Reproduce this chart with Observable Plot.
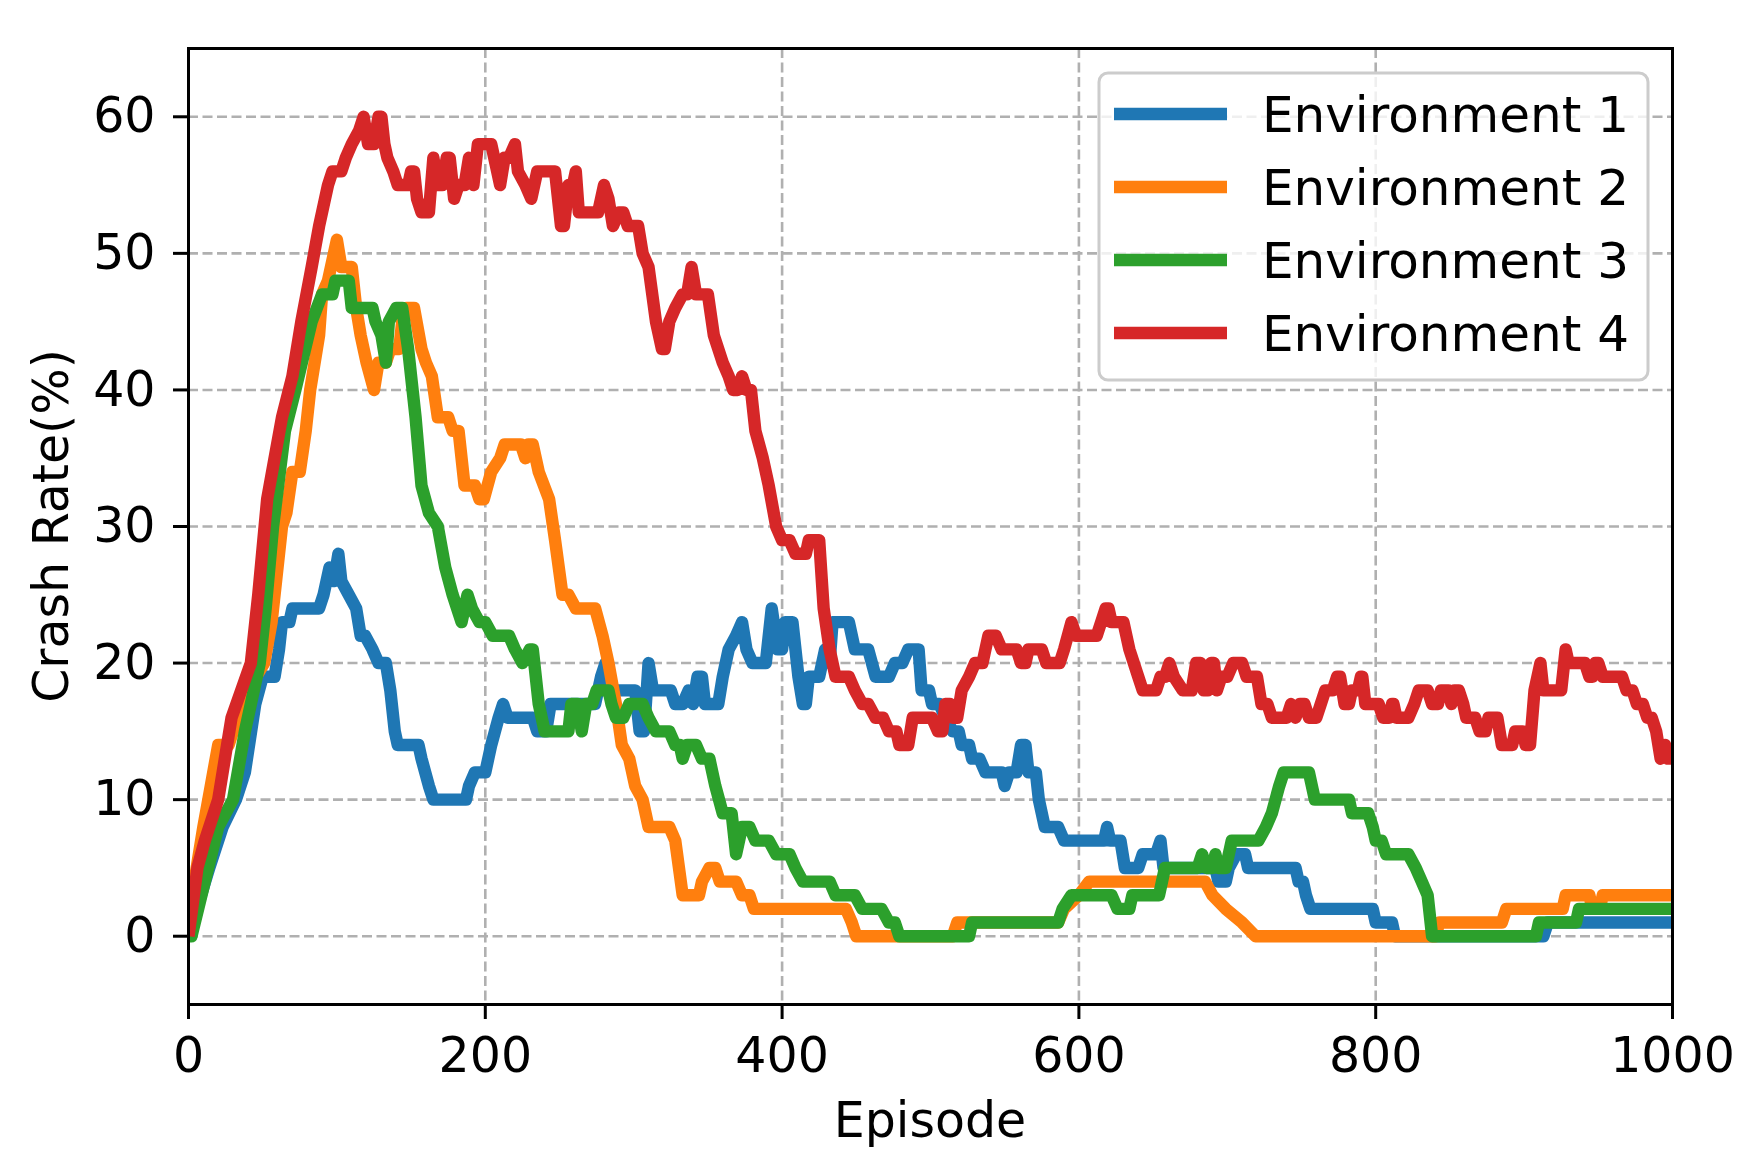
<!DOCTYPE html>
<html><head><meta charset="utf-8">
<script src="https://cdn.jsdelivr.net/npm/d3@7"></script>
<script src="https://cdn.jsdelivr.net/npm/@observablehq/plot@0.6"></script>
<style>html,body{margin:0;padding:0;background:#fff;} svg{display:block;}</style>
</head><body><div id="chart"></div>
<script>
// [episode, crash rate %]
const env1 = [[0,0],[14,5],[23,8],[32,10],[38,12],[45,17],[50,19],[58,19],[61,21],[63,23],[68,23],[70,24],[88,24],[91,25],[95,27],[98,26],[101,28],[103,26],[108,25],[113,24],[116,22],[119,22],[124,21],[128,20],[133,20],[136,18],[139,15],[141,14],[155,14],[157,13],[162,11],[165,10],[187,10],[189,11],[193,12],[200,12],[204,14],[209,16],[212,17],[215,16],[232,16],[235,15],[241,15],[244,17],[274,17],[278,19],[281,20],[283,18],[301,18],[304,15],[307,15],[310,20],[313,18],[325,18],[328,17],[333,17],[337,18],[340,17],[343,19],[346,19],[348,17],[357,17],[360,19],[364,21],[369,22],[373,23],[376,21],[380,20],[389,20],[393,24],[397,21],[400,21],[402,23],[407,23],[411,19],[414,17],[416,17],[418,19],[425,19],[429,21],[432,20],[434,23],[445,23],[449,21],[458,21],[463,19],[472,19],[476,20],[481,20],[485,21],[492,21],[494,18],[499,18],[501,17],[506,17],[510,16],[515,15],[519,15],[521,14],[526,14],[528,13],[533,13],[537,12],[548,12],[550,11],[553,12],[558,12],[561,14],[564,14],[566,12],[571,12],[573,10],[577,8],[586,8],[590,7],[617,7],[619,8],[621,7],[628,7],[631,5],[640,5],[643,6],[652,6],[655,7],[657,5],[692,5],[694,4],[699,4],[701,5],[706,6],[712,6],[714,5],[746,5],[748,4],[751,4],[753,3],[756,2],[798,2],[800,1],[811,1],[813,0],[913,0],[916,1],[1000,1]];
const env2 = [[0,0],[4,4],[10,8],[15,11],[20,14],[27,14],[33,16],[40,18],[51,20],[56,23],[63,30],[66,31],[70,34],[75,34],[79,37],[82,40],[88,44],[90,47],[94,48],[98,50],[100,51],[103,49],[110,49],[113,46],[116,44],[120,42],[125,40],[128,42],[133,42],[136,43],[142,43],[144,45],[147,46],[152,46],[157,43],[160,42],[164,41],[168,38],[175,38],[178,37],[182,37],[186,33],[193,33],[196,32],[199,32],[204,34],[210,35],[213,36],[224,36],[227,35],[229,36],[232,36],[236,34],[243,32],[247,29],[252,25],[256,25],[261,24],[274,24],[279,22],[283,20],[288,17],[292,14],[297,13],[301,11],[306,10],[310,8],[324,8],[328,7],[333,3],[344,3],[346,4],[351,5],[355,5],[358,4],[369,4],[373,3],[378,3],[381,2],[443,2],[447,1],[450,0],[515,0],[518,1],[586,1],[590,2],[600,3],[607,4],[685,4],[690,3],[699,2],[710,1],[719,0],[840,0],[843,1],[885,1],[888,2],[926,2],[928,3],[944,3],[946,2],[951,2],[953,3],[1000,3]];
const env3 = [[0,0],[2,0],[11,4],[20,8],[30,10],[38,15],[48,20],[52,24],[57,30],[65,37],[72,40],[83,45],[90,47],[97,47],[99,48],[108,48],[110,46],[124,46],[126,45],[130,44],[133,42],[135,45],[140,46],[144,46],[148,43],[153,38],[157,33],[162,31],[168,30],[173,27],[178,25],[184,23],[188,25],[191,24],[196,23],[200,23],[205,22],[216,22],[220,21],[225,20],[230,21],[232,21],[236,17],[240,15],[256,15],[258,17],[262,17],[265,15],[268,17],[272,17],[275,18],[283,18],[285,17],[288,16],[293,16],[297,17],[306,17],[310,16],[315,15],[324,15],[328,14],[331,14],[333,13],[336,14],[342,14],[346,13],[351,13],[355,11],[360,9],[366,9],[369,6],[373,8],[378,8],[382,7],[391,7],[396,6],[405,6],[409,5],[414,4],[432,4],[436,3],[449,3],[454,2],[467,2],[472,1],[476,1],[479,0],[526,0],[528,1],[586,1],[589,2],[595,3],[622,3],[626,2],[634,2],[636,3],[654,3],[658,5],[680,5],[683,6],[686,5],[690,5],[692,6],[694,5],[699,5],[703,7],[721,7],[726,8],[730,9],[735,11],[738,12],[755,12],[757,11],[759,10],[782,10],[784,9],[795,9],[798,8],[800,7],[804,7],[807,6],[822,6],[827,5],[831,4],[835,3],[838,0],[908,0],[910,1],[935,1],[937,2],[1000,2]];
const env4 = [[0,0],[6,5],[11,7],[20,10],[29,16],[42,20],[47,25],[53,32],[58,35],[63,38],[70,41],[76,45],[83,49],[88,52],[94,55],[97,56],[103,56],[106,57],[110,58],[115,59],[118,60],[121,58],[125,58],[128,60],[130,60],[132,58],[134,57],[138,56],[141,55],[148,55],[150,56],[152,56],[154,54],[157,53],[162,53],[165,57],[168,55],[171,55],[174,57],[176,57],[179,54],[182,55],[186,55],[189,57],[192,55],[195,58],[204,58],[208,56],[210,55],[213,57],[216,57],[220,58],[222,56],[227,55],[231,54],[235,56],[247,56],[251,52],[253,52],[256,55],[259,55],[261,56],[263,53],[276,53],[280,55],[283,54],[286,52],[290,53],[293,53],[296,52],[303,52],[306,50],[310,49],[315,45],[319,43],[321,43],[324,45],[328,46],[333,47],[336,47],[339,49],[342,47],[350,47],[354,44],[360,42],[364,41],[367,40],[370,40],[373,41],[376,40],[379,40],[382,37],[387,35],[391,33],[396,30],[400,29],[405,29],[409,28],[416,28],[418,29],[425,29],[428,24],[432,21],[436,19],[445,19],[449,18],[454,17],[458,17],[463,16],[468,16],[472,15],[477,15],[479,14],[485,14],[488,16],[497,16],[501,16],[505,15],[508,15],[510,17],[513,17],[515,16],[518,16],[521,18],[526,19],[530,20],[535,20],[539,22],[544,22],[548,21],[558,21],[561,20],[564,20],[566,21],[575,21],[578,20],[587,20],[590,21],[595,23],[598,22],[612,22],[615,23],[618,24],[620,24],[622,23],[630,23],[634,21],[640,19],[643,18],[652,18],[655,19],[658,19],[661,20],[664,19],[670,18],[676,18],[679,20],[682,20],[684,18],[687,18],[689,20],[691,20],[693,18],[696,19],[700,19],[704,20],[710,20],[713,19],[720,19],[723,17],[727,17],[730,16],[740,16],[743,17],[746,16],[749,17],[752,17],[755,16],[760,16],[763,17],[766,18],[771,18],[774,19],[776,19],[779,17],[782,17],[784,18],[788,18],[790,19],[791,19],[793,17],[802,17],[805,16],[809,16],[811,17],[812,17],[814,16],[822,16],[826,17],[829,18],[835,18],[838,17],[842,17],[844,18],[849,18],[851,17],[853,18],[856,18],[859,17],[861,16],[867,16],[870,15],[874,15],[876,16],[882,16],[885,14],[892,14],[894,15],[899,15],[901,14],[904,14],[907,18],[911,20],[913,18],[925,18],[928,21],[930,20],[941,20],[944,19],[946,19],[948,20],[950,20],[953,19],[966,19],[969,18],[973,18],[976,17],[980,17],[983,16],[986,16],[989,15],[992,13],[995,14],[997,13],[1000,13]];

const seriesNames = ["Environment 1", "Environment 2", "Environment 3", "Environment 4"];
const seriesColors = ["#1f77b4", "#ff7f0e", "#2ca02c", "#d62728"];
const xTicks = [0, 200, 400, 600, 800, 1000];
const yTicks = [0, 10, 20, 30, 40, 50, 60];
const xLabel = "Episode";
const yLabel = "Crash Rate(%)";

const W = 1753, H = 1171, mL = 188, mR = 81, mT = 48, mB = 167;
const LW = 12.4;
const series = [env1, env2, env3, env4];
const rows = series.map((s, i) => s.map(([ep, rate]) => ({ep, rate, env: seriesNames[i]})));

const gridStyle = {stroke: "#b0b0b0", strokeOpacity: 1, strokeWidth: 2.6, strokeDasharray: "10,4.5"};

const chart = Plot.plot({
  width: W, height: H,
  marginLeft: mL, marginRight: mR, marginTop: mT, marginBottom: mB,
  style: {fontFamily: "'DejaVu Sans', sans-serif", fontSize: "49px", background: "#fff", color: "#000"},
  x: {domain: [0, 1000]},
  y: {domain: [-5, 65]},
  marks: [
    Plot.gridX(xTicks, gridStyle),
    Plot.gridY(yTicks, gridStyle),
    ...rows.map((r, i) => Plot.line(r, {x: "ep", y: "rate", stroke: seriesColors[i], strokeWidth: LW, strokeLinejoin: "round", strokeLinecap: "butt", clip: true})),
    Plot.frame({stroke: "#000", strokeWidth: 3}),
    Plot.axisX(xTicks, {tickSize: 15, tickPadding: 18, strokeWidth: 3, label: null, tickFormat: d => String(d)}),
    Plot.axisY(yTicks, {tickSize: 15, tickPadding: 18, strokeWidth: 3, label: null, tickFormat: d => String(d)})
  ]
});
document.getElementById("chart").appendChild(chart);

const svg = d3.select(chart);
svg.append("text").attr("x", (mL + W - mR) / 2).attr("y", 1137).attr("text-anchor", "middle")
  .attr("font-size", 49).attr("fill", "#000").text(xLabel);
svg.append("text").attr("transform", `translate(68,${(mT + H - mB) / 2}) rotate(-90)`).attr("text-anchor", "middle")
  .attr("font-size", 49).attr("fill", "#000").text(yLabel);

const lg = svg.append("g");
lg.append("rect").attr("x", 1099).attr("y", 73).attr("width", 549).attr("height", 307).attr("rx", 9)
  .attr("fill", "#fff").attr("fill-opacity", 0.8).attr("stroke", "#cccccc").attr("stroke-width", 3);
seriesNames.forEach((n, i) => {
  const cy = 114 + i * 73;
  lg.append("line").attr("x1", 1114).attr("x2", 1227).attr("y1", cy).attr("y2", cy)
    .attr("stroke", seriesColors[i]).attr("stroke-width", LW);
  lg.append("text").attr("x", 1262).attr("y", cy + 18).attr("text-anchor", "start")
    .attr("font-size", 50).attr("fill", "#000").text(n);
});
</script>
</body></html>
